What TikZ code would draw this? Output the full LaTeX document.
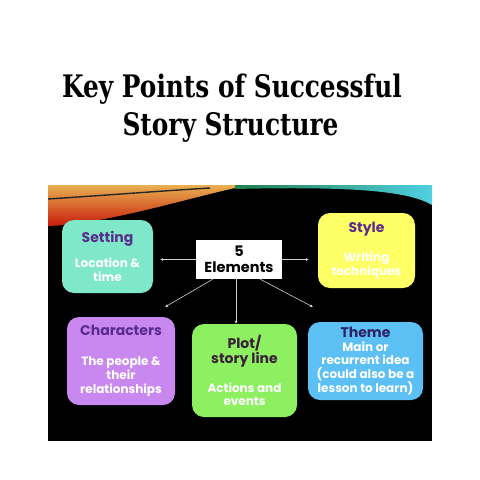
\documentclass[tikz,border=0pt]{standalone}
\usepackage{fontspec}
\usepackage{tikz}
\usetikzlibrary{arrows.meta,positioning}
\newfontfamily\titlefont{DejaVu Serif}[FakeStretch=0.8]
\newfontfamily\boxfont{Poppins}
\definecolor{setfill}{HTML}{7EE8C8}
\definecolor{styfill}{HTML}{FFFF66}
\definecolor{chrfill}{HTML}{C888F0}
\definecolor{plotfill}{HTML}{8CF060}
\definecolor{themfill}{HTML}{5CC0F5}
\definecolor{purphead}{HTML}{5B2C8F}
\definecolor{darkhead}{HTML}{3A1F3A}
\definecolor{navyhead}{HTML}{2E2266}
\definecolor{linkgray}{HTML}{D0D0D0}
\definecolor{swgold}{HTML}{E8B050}
\definecolor{sworange}{HTML}{E06818}
\definecolor{swred}{HTML}{C81C0C}
\newcommand{\hd}[2]{{\color{#1}\fontsize{14}{15}\selectfont #2}}

\begin{document}
\begin{tikzpicture}[x=1pt, y=-1pt,
    box/.style={rounded corners=12pt, align=center, inner sep=2pt,
      font=\boxfont\bfseries\fontsize{12}{13.8}\selectfont, text=white},
    link/.style={draw=linkgray, line width=0.6pt, -{Latex[length=3pt,width=3pt]}}]
  \useasboundingbox (0,0) rectangle (480,480);
  % Title
  \node[anchor=base, font=\titlefont\bfseries\fontsize{31}{36}\selectfont] (t1) at (232,97) {Key Points of Successful};
  \node[anchor=base, font=\titlefont\bfseries\fontsize{31}{36}\selectfont] (t2) at (230.5,135) {Story Structure};
  % Panel
  \fill[black] (48,185) rectangle (432,441);
  \shade[top color=swgold, middle color=sworange, bottom color=swred]
    (48,185) -- (250,185) .. controls (200,194) and (110,224) .. (48,226) -- cycle;
  \draw[black!85, line width=1.4pt] (48,199) .. controls (110,195) and (160,191) .. (210,188);
  \shade[left color={rgb,255:red,32;green,128;blue,80}, right color={rgb,255:red,80;green,208;blue,224}]
    (235,185) -- (432,185) -- (432,205) .. controls (410,192) and (360,186) .. (235,189) -- cycle;
  % Boxes
  \node[box, fill=white, text=black, rounded corners=0pt, minimum width=86pt, minimum height=39pt,
    font=\boxfont\bfseries\fontsize{14.5}{16}\selectfont] (el) at (239,259.5) {5\\Elements};
  \node[box, fill=setfill, minimum width=91pt, minimum height=73pt] (set) at (107.5,256.5)
    {\hd{purphead}{Setting}\\[11pt]Location \&\\time};
  \node[box, fill=styfill, minimum width=97pt, minimum height=75pt] (sty) at (366.5,250.5)
    {\hd{purphead}{Style}\\[15pt]Writing\\techniques};
  \node[box, fill=chrfill, minimum width=108pt, minimum height=88pt] (chr) at (121,361)
    {\hd{purphead}{Characters}\\[16pt]The people \&\\their\\relationships};
  \node[box, fill=plotfill, minimum width=105pt, minimum height=93pt] (plot) at (244.5,370.5)
    {\hd{darkhead}{Plot/}\\\hd{darkhead}{story line}\\[15pt]Actions and\\events};
  \node[box, fill=themfill, minimum width=115pt, minimum height=78pt] (them) at (365.5,361)
    {\hd{navyhead}{Theme}\\Main or\\recurrent idea\\(could also be a\\lesson to learn)};
  % Connectors
  \coordinate (chrtip) at (165,307);
  \coordinate (themtip) at (313,307);
  \draw[link, shorten >=7pt] (el.west) -- (el.west -| set.east);
  \draw[link, shorten >=9pt] (el.east) -- (el.east -| sty.west);
  \draw[link] ([xshift=17pt]el.south west) -- (chrtip);
  \draw[link] ([xshift=-3pt]el.south) -- ([xshift=-3pt]el.south |- plot.north);
  \draw[link] ([xshift=-22pt]el.south east) -- (themtip);
\end{tikzpicture}
\end{document}
